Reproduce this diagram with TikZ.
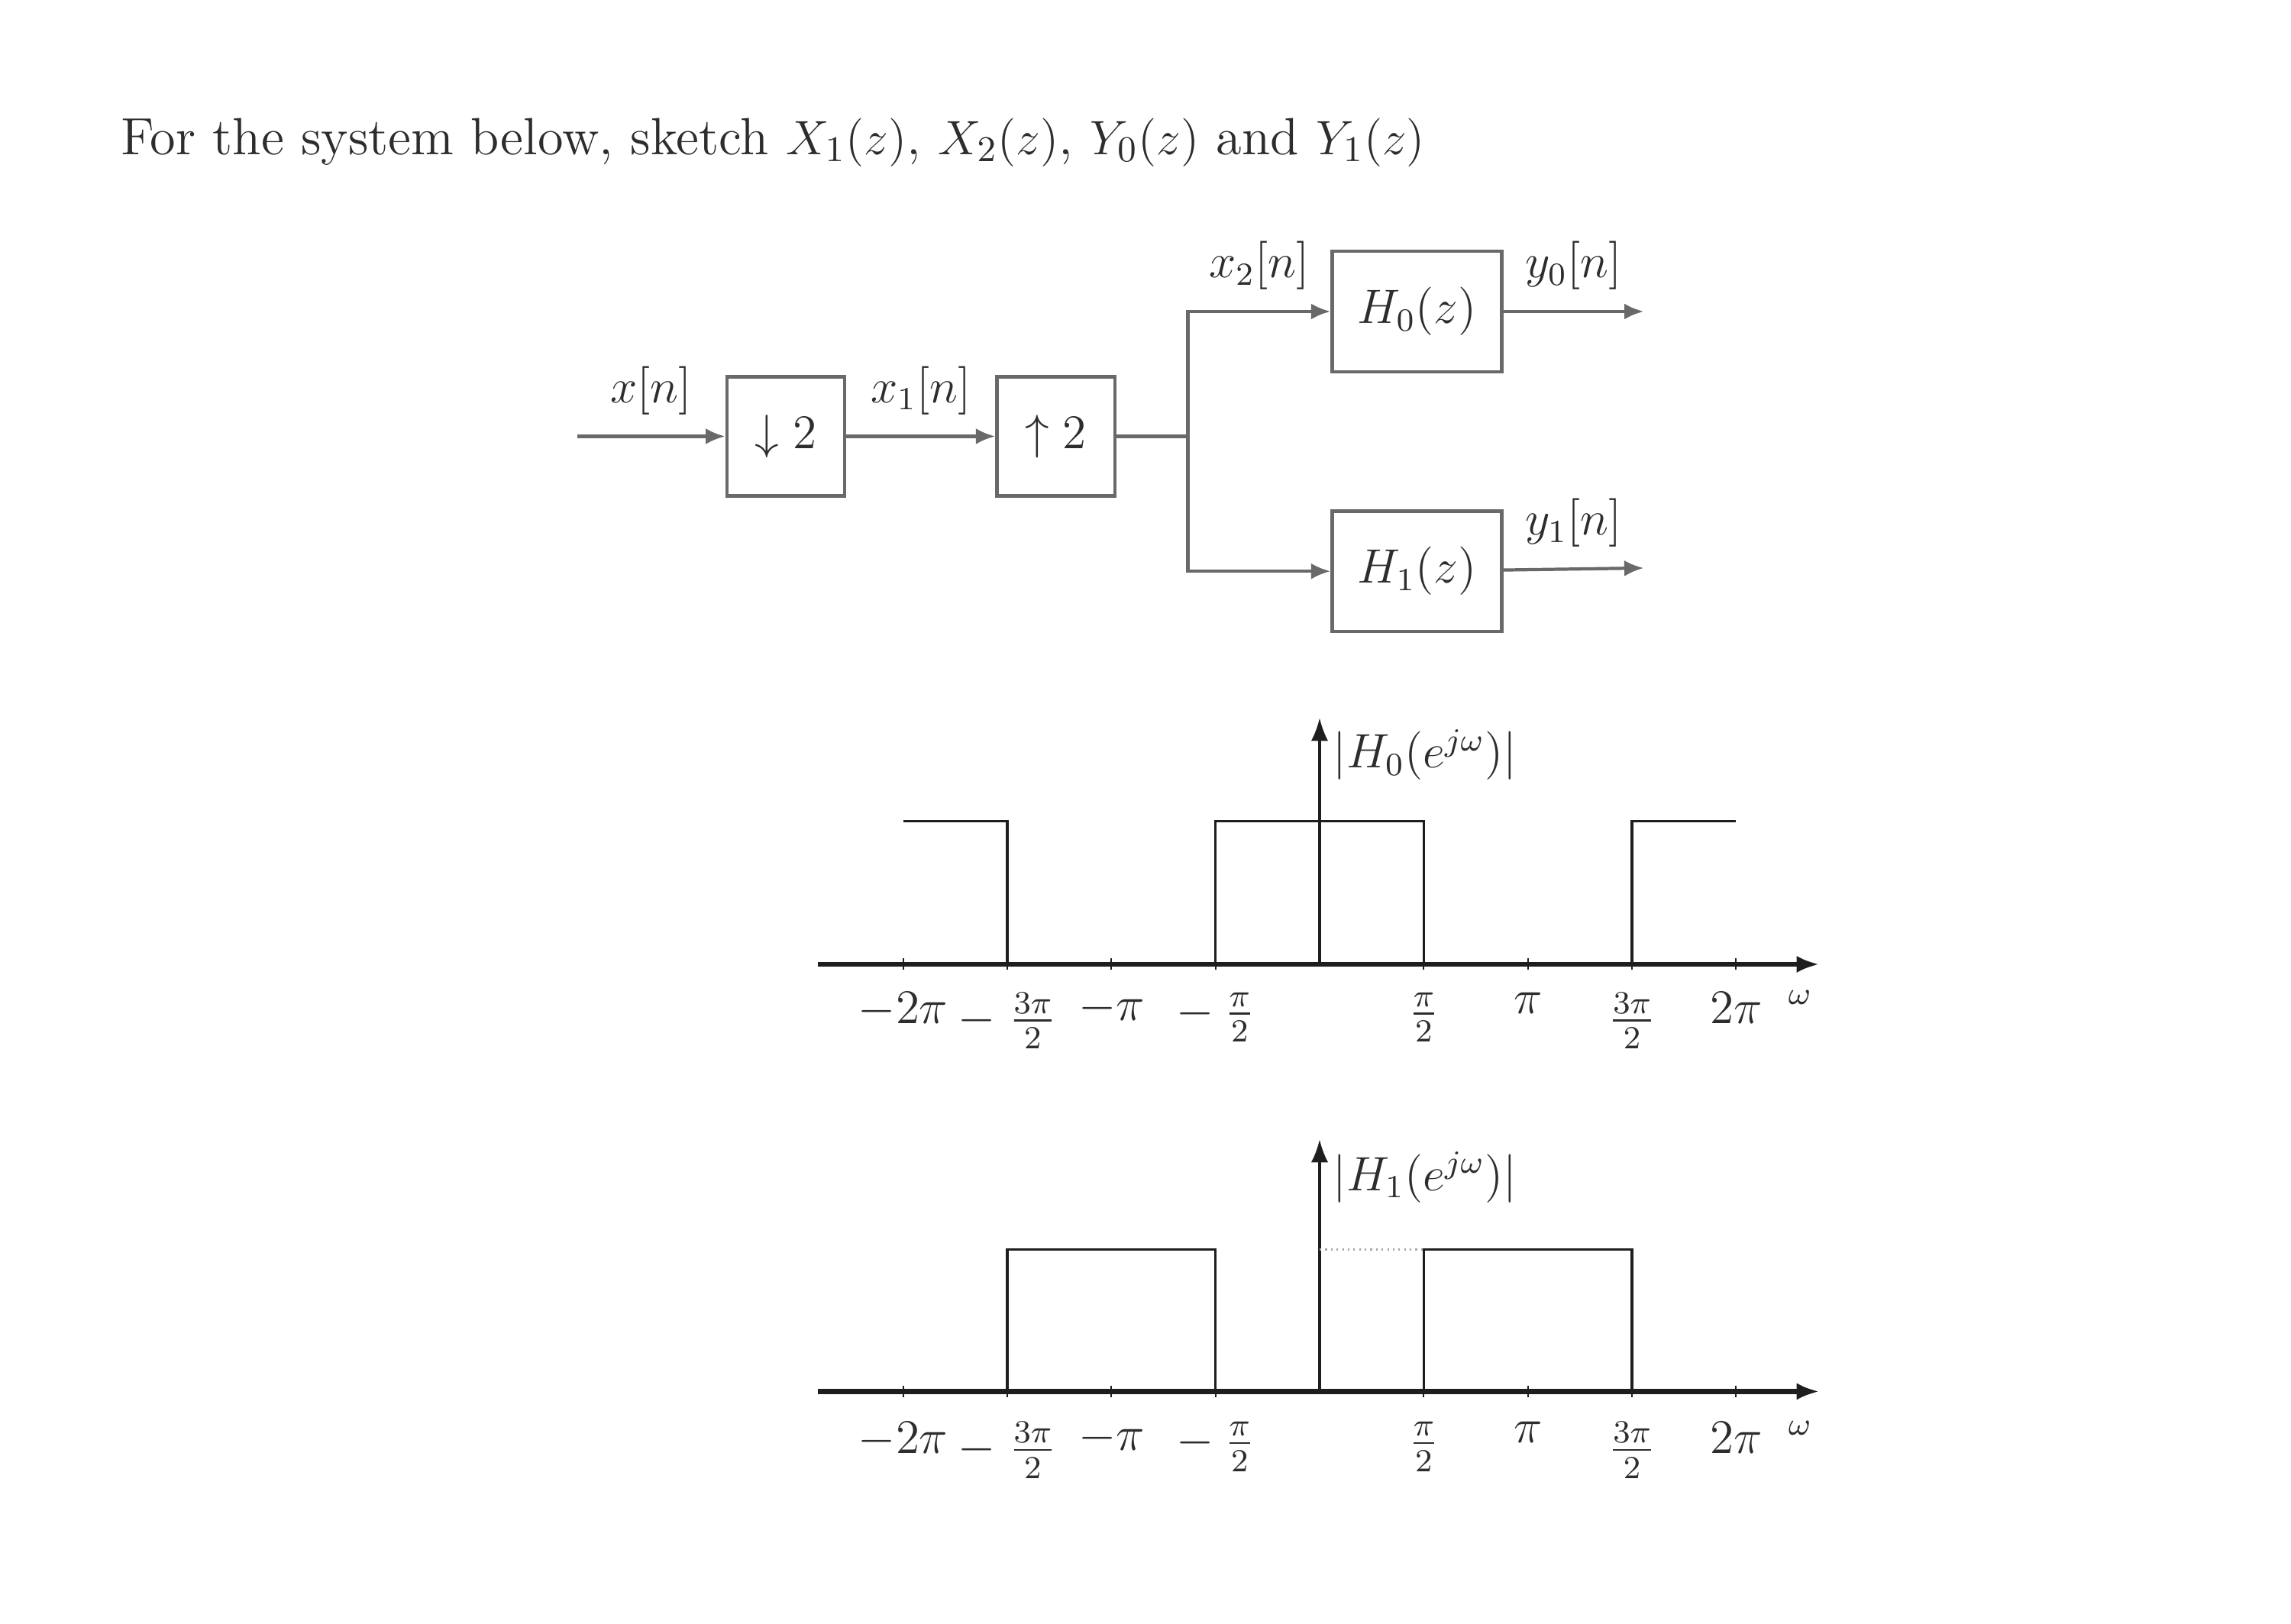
\documentclass[12pt,tikz,border=0pt]{standalone}
\usepackage{amsmath}
\usepackage{amssymb}
\usepackage{tikz}
\usetikzlibrary{
  arrows.meta,
  positioning,
  calc
}
\usepackage{xcolor}
\definecolor{inkclr}{RGB}{45, 45, 45}
\definecolor{boxclr}{RGB}{105, 105, 105}
\definecolor{plotclr}{RGB}{30, 30, 30}
\tikzset{
  % Bloklar
  blockbox/.style  = {draw=boxclr, thick, minimum width=1.03cm,
                      minimum height=1.04cm, inner sep=0pt, text=inkclr},
  filtbox/.style   = {blockbox, minimum width=1.48cm, minimum height=1.05cm},
  % Signal chiziqlari
  sigline/.style   = {-{Latex[length=1.7mm,width=1.4mm]}, thick, draw=boxclr},
  sigplain/.style  = {thick, draw=boxclr},
  siglab/.style    = {above, inner sep=5pt, text=inkclr},
  % Grafiklar
  axisline/.style  = {-{Latex[length=2mm,width=1.5mm]}, very thick, draw=plotclr},
  yaxisline/.style = {-{Latex[length=2mm,width=1.5mm]}, semithick, draw=plotclr},
  bandline/.style  = {semithick, draw=plotclr},
  ticklab/.style   = {anchor=north, inner sep=0pt, text=inkclr},
  maglab/.style    = {anchor=west, inner sep=0pt, text=inkclr},
}

\begin{document}
\begin{tikzpicture}
  \useasboundingbox (0,0) rectangle (20,14.18);
  % Savol matni
  \node[anchor=base west, inner sep=0pt, text=inkclr, font=\fontsize{13}{16}\selectfont]
    (title) at (1.05,12.83)
    {For the system below, sketch $X_1(z)$, $X_2(z)$, $Y_0(z)$ and $Y_1(z)$};

  % Blok sxema
  \coordinate (xin) at (5.04,10.37);
  \node[blockbox] (down) at (6.86,10.37) {$\downarrow 2$};
  \node[blockbox, right=1.30cm of down] (up) {$\uparrow 2$};
  \coordinate (br) at (10.37,10.37);
  \node[filtbox] (hzero) at (12.37,11.46) {$H_0(z)$};
  \node[filtbox, below=1.19cm of hzero] (hone) {$H_1(z)$};
  \coordinate (yout0) at (14.35,11.46);
  \coordinate (yout1) at (14.35,9.22);

  \draw[sigline] (xin) -- (down) node[siglab, midway] {$x[n]$};
  \draw[sigline] (down) -- (up) node[siglab, midway] {$x_1[n]$};
  \draw[sigplain] (up) -- (br);
  \draw[sigline] (br) |- (hzero) node[siglab, pos=0.75] {$x_2[n]$};
  \draw[sigline] (br) |- (hone);
  \draw[sigline] (hzero) -- (yout0) node[siglab, midway] {$y_0[n]$};
  \draw[sigline] (hone) -- (yout1) node[siglab, midway] {$y_1[n]$};

  % |H0(e^{jw})|
  \begin{scope}[shift={(11.52,5.76)}, xscale=0.909]
    \draw[axisline] (-4.82,0) -- (4.80,0);
    \draw[yaxisline] (0,0) -- (0,2.15);
    \foreach \k in {-4,-3,-2,-1,1,2,3,4}
      \draw[thin, plotclr] (\k,-0.05) -- (\k,0.05);
    \draw[bandline] (-4,1.25) -- (-3,1.25) -- (-3,0);
    \draw[bandline] (-1,0) -- (-1,1.25) -- (1,1.25) -- (1,0);
    \draw[bandline] (3,0) -- (3,1.25) -- (4,1.25);
    \foreach \k/\lab in {-4/-2\pi, -3/-\mkern5mu\frac{3\pi}{2}, -2/-\pi, -1/-\mkern4mu\frac{\pi}{2},
                         1/\frac{\pi}{2}, 2/\pi, 3/\frac{3\pi}{2}, 4/2\pi}
      \node[ticklab] at (\k,-0.24) {$\lab$};
    \node[inner sep=0pt, text=inkclr] (wzero) at (4.61,-0.29) {$\scriptstyle\omega$};
    \node[maglab] (magzero) at (0.12,1.83) {$|H_0(e^{j\omega})|$};
  \end{scope}

  % |H1(e^{jw})|
  \begin{scope}[shift={(11.52,2.03)}, xscale=0.909]
    \draw[axisline] (-4.82,0) -- (4.80,0);
    \draw[yaxisline] (0,0) -- (0,2.20);
    \foreach \k in {-4,-3,-2,-1,1,2,3,4}
      \draw[thin, plotclr] (\k,-0.05) -- (\k,0.05);
    \draw[bandline] (-3,0) -- (-3,1.24) -- (-1,1.24) -- (-1,0);
    \draw[bandline] (1,0) -- (1,1.24) -- (3,1.24) -- (3,0);
    \draw[densely dotted, thin, black!35] (0,1.24) -- (1,1.24);
    \foreach \k/\lab in {-4/-2\pi, -3/-\mkern5mu\frac{3\pi}{2}, -2/-\pi, -1/-\mkern4mu\frac{\pi}{2},
                         1/\frac{\pi}{2}, 2/\pi, 3/\frac{3\pi}{2}, 4/2\pi}
      \node[ticklab] at (\k,-0.26) {$\lab$};
    \node[inner sep=0pt, text=inkclr] (wone) at (4.61,-0.32) {$\scriptstyle\omega$};
    \node[maglab] (magone) at (0.12,1.87) {$|H_1(e^{j\omega})|$};
  \end{scope}
\end{tikzpicture}
\end{document}
